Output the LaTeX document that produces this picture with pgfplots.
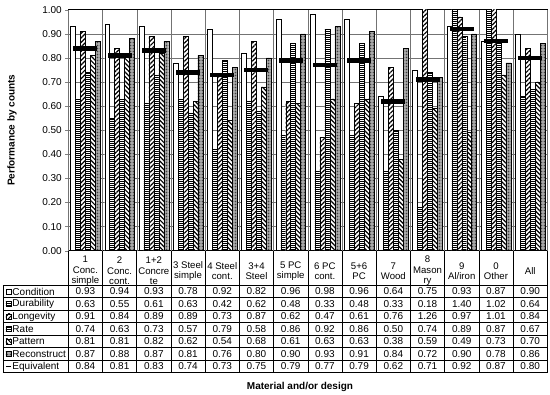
\documentclass[border=0pt]{standalone}
\usepackage{fontspec}
\setmainfont{Liberation Sans}
\usepackage{pgfplots}
\pgfplotsset{compat=1.18}
\usepackage{pgfplotstable}
\usetikzlibrary{patterns,patterns.meta}

\pgfplotstableread{
x cond dur long rate pat rec eq
0 0.93 0.63 0.91 0.74 0.81 0.87 0.84
1 0.94 0.55 0.84 0.63 0.81 0.88 0.81
2 0.93 0.61 0.89 0.73 0.82 0.87 0.83
3 0.78 0.63 0.89 0.57 0.62 0.81 0.74
4 0.92 0.42 0.73 0.79 0.54 0.76 0.73
5 0.82 0.62 0.87 0.58 0.68 0.80 0.75
6 0.96 0.48 0.62 0.86 0.61 0.90 0.79
7 0.98 0.33 0.47 0.92 0.63 0.93 0.77
8 0.96 0.48 0.61 0.86 0.63 0.91 0.79
9 0.64 0.33 0.76 0.50 0.38 0.84 0.62
10 0.75 0.18 1.26 0.74 0.59 0.72 0.71
11 0.93 1.40 0.97 0.89 0.49 0.90 0.92
12 0.87 1.02 1.01 0.87 0.73 0.78 0.87
13 0.90 0.64 0.84 0.67 0.70 0.86 0.80
}\data

\tikzset{
  sCond/.style={draw=black, line width=0.4pt, fill=white},
  sDur/.style={draw=black, line width=0.4pt, fill=white, postaction={pattern={Lines[angle=0,distance=2pt,line width=0.9pt]}}},
  sLong/.style={draw=black, line width=0.4pt, fill=white, postaction={pattern={Lines[angle=45,distance=3.2pt,line width=1.2pt]}}},
  sRate/.style={draw=black, line width=0.4pt, fill=white, postaction={pattern={Lines[angle=0,distance=2pt,line width=0.35pt]}}},
  sPat/.style={draw=black, line width=0.4pt, fill=white, postaction={pattern={Lines[angle=-45,distance=3.2pt,line width=1.2pt]}}},
  sRec/.style={draw=black, line width=0.4pt, fill=gray!55, postaction={pattern={Dots[distance=1.5pt,radius=0.35pt]}}},
}
\def\cw{34.2143pt}
\newcommand\tf{\fontsize{10}{11}\selectfont}
\newcommand\hf{\fontsize{9.6}{10.4}\selectfont}

\begin{document}
\begin{tikzpicture}
\path[use as bounding box] (-68.3pt,-144.3pt) rectangle (481.7pt,250.7pt);
\begin{axis}[
  at={(0,0)}, anchor=south west,
  scale only axis, width=479pt, height=241pt,
  xmin=-0.5, xmax=13.5, ymin=0, ymax=1,
  /pgf/number format/assume math mode=true,
  ytick={0,0.1,0.2,0.3,0.4,0.5,0.6,0.7,0.8,0.9,1.0},
  yticklabel style={/pgf/number format/fixed, /pgf/number format/fixed zerofill, /pgf/number format/precision=2, font=\tf},
  tick pos=left, tick align=outside, major tick length=3pt,
  ymajorgrids, major grid style={black!55, line width=0.4pt},
  xtick={0,...,13},
  xticklabels={{1\\Conc.\\simple},{2\\Conc.\\cont.},{1+2\\Concre\\te},{3 Steel\\simple},{4 Steel\\cont.},{3+4\\Steel},{5 PC\\simple},{6 PC\\cont.},{5+6\\PC},{7\\Wood},{8\\Mason\\ry},{9\\Al/iron},{0\\Other},{All}},
  xticklabel style={font=\hf, align=center, anchor=center, yshift=-17.25pt},
  xtick style={draw=none},
  extra x ticks={-0.5,0.5,...,13.5},
  extra x tick labels={},
  extra x tick style={grid=major, major tick length=0pt},
  axis line style={black, line width=0.5pt},
  xlabel={Material and/or design},
  ylabel={Performance by counts},
  every axis x label/.style={at={(axis description cs:0.4837,0)}, anchor=center, yshift=-136.5pt, font=\fontsize{10}{12}\selectfont\bfseries},
  every axis y label/.style={at={(axis description cs:0,0.5)}, anchor=center, rotate=90, yshift=56.3pt, font=\fontsize{10}{12}\selectfont\bfseries},
]
\addplot[ybar, bar width=0.145, bar shift=-0.3625, sCond] table[x=x,y=cond]{\data};
\addplot[ybar, bar width=0.145, bar shift=-0.2175, sDur] table[x=x,y=dur]{\data};
\addplot[ybar, bar width=0.145, bar shift=-0.0725, sLong] table[x=x,y=long]{\data};
\addplot[ybar, bar width=0.145, bar shift=0.0725, sRate] table[x=x,y=rate]{\data};
\addplot[ybar, bar width=0.145, bar shift=0.2175, sPat] table[x=x,y=pat]{\data};
\addplot[ybar, bar width=0.145, bar shift=0.3625, sRec] table[x=x,y=rec]{\data};
\addplot[only marks, mark=-, mark size=12pt, mark options={line width=4.5pt, black}] table[x=x,y=eq]{\data};
\end{axis}
% data table grid
\foreach \j in {0,...,14} \draw[black, line width=0.5pt] ({\j*\cw},0pt) -- ({\j*\cw},-122pt);
\foreach \k in {0,...,7} \draw[black, line width=0.5pt] (-65.3pt,{-34.5pt-12.5pt*\k}) -- (479pt,{-34.5pt-12.5pt*\k});
\draw[black, line width=0.5pt] (-65.3pt,-34.5pt) -- (-65.3pt,-122pt);
% legend column
\foreach \s/\n [count=\r from 0] in {sCond/Condition,sDur/Durability,sLong/Longevity,sRate/Rate,sPat/Pattern,sRec/Reconstruct} {
  \draw[\s] (-62.3pt,{-34.5pt-12.5pt*(\r+0.5)-2.5pt}) rectangle ++(5pt,5pt);
  \node[font=\tf, anchor=west, inner sep=0pt] at (-56pt,{-34.5pt-12.5pt*(\r+0.5)}) {\n};
}
\draw[black, line width=1.3pt] (-62.3pt,{-34.5pt-12.5pt*6.5}) -- ++(5pt,0pt);
\node[font=\tf, anchor=west, inner sep=0pt] at (-56pt,{-34.5pt-12.5pt*6.5}) {Equivalent};
% values
\foreach \col [count=\r from 0] in {cond,dur,long,rate,pat,rec,eq} {
  \pgfplotstableforeachcolumnelement{\col}\of\data\as\cell{%
    \node[font=\tf, inner sep=0pt] at ({(\pgfplotstablerow+0.5)*\cw},{-34.5pt-12.5pt*(\r+0.5)}) {\cell};
  }
}
\end{tikzpicture}
\end{document}
